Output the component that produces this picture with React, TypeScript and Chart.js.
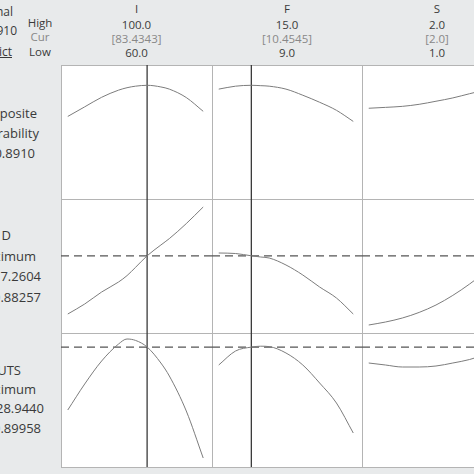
import {useEffect, useRef} from "react";
import {Chart, registerables} from "chart.js";

Chart.register(...registerables);

// Factors (columns)
const factorNames = ["I", "F", "S"];
const factorHigh = ["100.0", "15.0", "2.0"];
const factorCur = ["[83.4343]", "[10.4545]", "[2.0]"];
const factorLow = ["60.0", "9.0", "1.0"];
const factorLowValues = [60, 9, 1];
const factorHighValues = [100, 15, 2];
const currentSettings = [83.4343, 10.4545, 2.0];

// x grid per factor
const iLevels = [60, 65, 70, 75, 77.5, 80, 83.4343, 87.5, 90, 95, 100];
const fLevels = [9, 9.75, 10.4545, 10.875, 11.25, 12, 12.75, 13.5, 14.25, 15];
const sLevels = [1, 1.125, 1.25, 1.375, 1.5, 1.625, 1.75, 1.875, 2];

// Composite desirability
const compositeI = [0.647, 0.722, 0.797, 0.853, 0.872, 0.884, 0.891, 0.878, 0.861, 0.795, 0.687];
const compositeF = [0.861, 0.884, 0.891, 0.888, 0.884, 0.861, 0.813, 0.758, 0.695, 0.608];
const compositeS = [0.711, 0.718, 0.726, 0.742, 0.766, 0.792, 0.825, 0.857, 0.891];

// D response
const dI = [14.35, 14.85, 15.45, 15.95, 16.27, 16.68, 17.26, 17.8, 18.12, 18.87, 19.7];
const dF = [17.4, 17.375, 17.26, 17.2, 17.15, 16.8, 16.3, 15.7, 15.15, 14.35];
const dS = [13.8, 13.95, 14.15, 14.43, 14.8, 15.28, 15.85, 16.5, 17.26];

// UTS response
const utsI = [97.5, 110.5, 122, 130.5, 133, 132.3, 129, 121, 114.5, 97, 73.5];
const utsF = [120, 127, 128.944, 129.4, 129.2, 126, 120, 111, 101, 86];
const utsS = [121, 120, 119, 119, 119.5, 121, 122.75, 125.5, 128.944];

const responseTargets = [null, 17.2604, 128.944];
const rowYMin = [0, 13.4, 69];
const rowYMax = [1.05, 20.1, 136];

const levels = [iLevels, fLevels, sLevels];
const rowCurves = [
  [compositeI, compositeF, compositeS],
  [dI, dF, dS],
  [utsI, utsF, utsS],
];

// layout
const colLeft = [61, 212, 362];
const colWidth = [151, 150, 150];
const rowTop = [65, 199, 333];
const rowHeight = 134;
const padLeft = 0.05;
const padRight = 0.065;

const FONT = "'Open Sans', sans-serif";
const DARK = "#3a3a3a";
const LIGHT = "#888888";

interface PanelProps {
  xs: number[];
  ys: number[];
  xMin: number;
  xMax: number;
  yMin: number;
  yMax: number;
  cur: number;
  target: number | null;
  left: number;
  top: number;
  width: number;
  height: number;
}

function Panel({xs, ys, xMin, xMax, yMin, yMax, cur, target, left, top, width, height}: PanelProps) {
  const canvasRef = useRef<HTMLCanvasElement>(null);

  useEffect(() => {
    if (!canvasRef.current) return;
    const datasets: any[] = [
      {
        data: xs.map((x, i) => ({x, y: ys[i]})),
        borderColor: "#7c7c7c",
        borderWidth: 1,
        pointRadius: 0,
        cubicInterpolationMode: "monotone",
      },
      {
        data: [
          {x: cur, y: yMin},
          {x: cur, y: yMax},
        ],
        borderColor: "#3a3a3a",
        borderWidth: 1.3,
        pointRadius: 0,
      },
    ];
    if (target !== null) {
      datasets.push({
        data: [
          {x: xMin, y: target},
          {x: xMax, y: target},
        ],
        borderColor: "#555",
        borderWidth: 1.3,
        borderDash: [8, 5],
        pointRadius: 0,
      });
    }
    const chart = new Chart(canvasRef.current, {
      type: "line",
      data: {datasets},
      options: {
        animation: false,
        responsive: true,
        maintainAspectRatio: false,
        events: [],
        layout: {padding: 0},
        plugins: {legend: {display: false}, tooltip: {enabled: false}},
        scales: {
          x: {type: "linear", min: xMin, max: xMax, display: false},
          y: {type: "linear", min: yMin, max: yMax, display: false},
        },
      },
    });
    return () => chart.destroy();
  }, [xs, ys, xMin, xMax, yMin, yMax, cur, target]);

  return (
    <div style={{position: "absolute", left, top, width, height}}>
      <canvas ref={canvasRef} />
    </div>
  );
}

function Label({text, x, y, align, color = DARK, size = 13, underline = false}: {
  text: string;
  x: number;
  y: number;
  align: "left" | "right" | "center";
  color?: string;
  size?: number;
  underline?: boolean;
}) {
  const style: React.CSSProperties = {
    position: "absolute",
    top: y - 8,
    height: 16,
    lineHeight: "16px",
    fontSize: size,
    color,
    whiteSpace: "nowrap",
    fontFamily: FONT,
    textDecoration: underline ? "underline" : "none",
  };
  if (align === "right") {
    style.right = 474 - x;
    style.textAlign = "right";
  } else if (align === "center") {
    style.left = x - 60;
    style.width = 120;
    style.textAlign = "center";
  } else {
    style.left = x;
  }
  return <div style={style}>{text}</div>;
}

export default function App() {
  const plotRight = colLeft[2] + colWidth[2];
  const plotBottom = rowTop[2] + rowHeight;
  const gridColor = "#b4b4b4";

  return (
    <div
      style={{
        position: "relative",
        width: 474,
        height: 474,
        overflow: "hidden",
        background: "#e8eaeb",
        fontFamily: FONT,
      }}
    >
      <style>{"body{margin:0}"}</style>
      <div
        style={{
          position: "absolute",
          left: colLeft[0],
          top: rowTop[0],
          width: plotRight - colLeft[0],
          height: plotBottom - rowTop[0],
          background: "#fff",
        }}
      />
      {colLeft.map(x => (
        <div key={"v" + x} style={{position: "absolute", left: x, top: rowTop[0], width: 1, height: plotBottom - rowTop[0], background: gridColor}} />
      ))}
      {[...rowTop, plotBottom].map(y => (
        <div key={"h" + y} style={{position: "absolute", left: colLeft[0], top: y, width: plotRight - colLeft[0], height: 1, background: gridColor}} />
      ))}

      {rowCurves.map((curves, r) =>
        curves.map((ys, c) => {
          const span = factorHighValues[c] - factorLowValues[c];
          return (
            <Panel
              key={`${r}-${c}`}
              xs={levels[c]}
              ys={ys}
              xMin={factorLowValues[c] - span * padLeft}
              xMax={factorHighValues[c] + span * padRight}
              yMin={rowYMin[r]}
              yMax={rowYMax[r]}
              cur={currentSettings[c]}
              target={responseTargets[r]}
              left={colLeft[c]}
              top={rowTop[r]}
              width={colWidth[c]}
              height={rowHeight}
            />
          );
        }),
      )}

      {/* header */}
      {factorNames.map((name, c) => {
        const cx = colLeft[c] + colWidth[c] / 2;
        return (
          <div key={name}>
            <Label text={name} x={cx} y={9} align="center" size={11.5} />
            <Label text={factorHigh[c]} x={cx} y={25} align="center" size={11.5} />
            <Label text={factorCur[c]} x={cx} y={38.5} align="center" size={11.5} color={LIGHT} />
            <Label text={factorLow[c]} x={cx} y={53} align="center" size={11.5} />
          </div>
        );
      })}
      <Label text="High" x={40} y={23} align="center" size={11.5} />
      <Label text="Cur" x={40} y={37} align="center" size={11.5} color={LIGHT} />
      <Label text="Low" x={40} y={52} align="center" size={11.5} />
      <Label text="Optimal" x={13} y={12} align="right" size={12} />
      <Label text="D: 0.8910" x={17} y={31} align="right" size={12} />
      <Label text="Predict" x={12} y={52} align="right" size={12} underline />

      {/* row labels */}
      <Label text="Composite" x={37} y={113} align="right" />
      <Label text="Desirability" x={39} y={133} align="right" />
      <Label text="D = 0.8910" x={35} y={153} align="right" />

      <Label text="D" x={11} y={235} align="right" />
      <Label text="Maximum" x={36} y={256} align="right" />
      <Label text="y = 17.2604" x={41} y={276} align="right" />
      <Label text="d = 0.88257" x={41} y={297} align="right" />

      <Label text="UTS" x={21} y={370} align="right" />
      <Label text="Maximum" x={36} y={389} align="right" />
      <Label text="y = 128.9440" x={44} y={408} align="right" />
      <Label text="d = 0.89958" x={41} y={428} align="right" />
    </div>
  );
}
